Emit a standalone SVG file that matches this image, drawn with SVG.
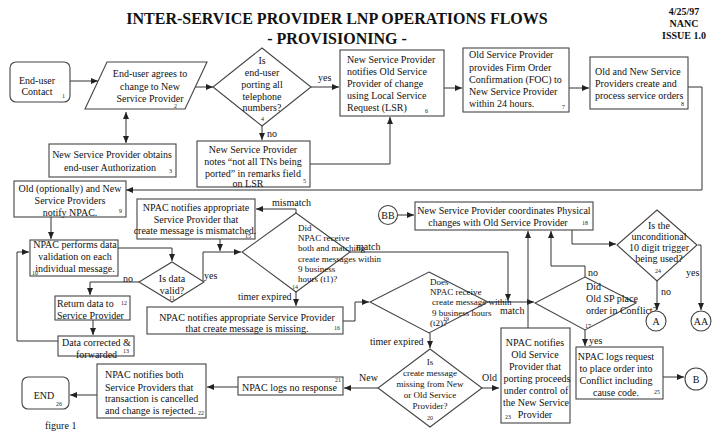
<svg xmlns="http://www.w3.org/2000/svg" width="720" height="437" viewBox="0 0 720 437">
<defs>
<marker id="arr" viewBox="0 0 7 6" refX="7" refY="3" markerWidth="7" markerHeight="6" markerUnits="userSpaceOnUse" orient="auto-start-reverse">
<path d="M0,0 L7,3 L0,6 z" fill="#222"/>
</marker>
<style>
.b{fill:#fff;stroke:#444;stroke-width:1.1}
.t{font-family:"Liberation Serif","Times New Roman",serif;font-size:10px;fill:#111}
.c{text-anchor:middle}
.s{font-family:"Liberation Serif","Times New Roman",serif;font-size:6px;fill:#222}
.d{font-size:9px}
.h{font-family:"Liberation Serif","Times New Roman",serif;font-weight:bold;fill:#111;text-anchor:middle}
.ln{fill:none;stroke:#333;stroke-width:1}
.a{marker-end:url(#arr)}
</style>
</defs>
<rect width="720" height="437" fill="#fff"/>
<g id="title">
<text class="h" x="337" y="24" font-size="16">INTER-SERVICE PROVIDER LNP OPERATIONS FLOWS</text>
<text class="h" x="337" y="44" font-size="16">- PROVISIONING -</text>
<text class="h" x="684" y="15" font-size="10">4/25/97</text>
<text class="h" x="684" y="27" font-size="10">NANC</text>
<text class="h" x="684" y="39" font-size="10">ISSUE 1.0</text>
</g>
<g id="connectors">
<path class="ln a" d="M70,81 H98"/>
<path class="ln a" d="M195,87 H213"/>
<path class="ln a" d="M126,112 V143" marker-start="url(#arr)"/>
<path class="ln a" d="M311,87 H339"/>
<path class="ln a" d="M262,126 V140"/>
<path class="ln a" d="M310,164 H390 V117"/>
<path class="ln a" d="M444,88 H462"/>
<path class="ln a" d="M569,88 H589"/>
<path class="ln a" d="M688,87 H702 V190 H126"/>
<path class="ln a" d="M51,217 V239"/>
<path class="ln a" d="M118,248 H172 V261"/>
<path class="ln a" d="M139,282 H90 V295"/>
<path class="ln a" d="M93,320 V335"/>
<path class="ln a" d="M58,341 H17 V252 H29"/>
<path class="ln a" d="M203,282 V252 H241"/>
<path class="ln a" d="M220,239 V251"/>
<path class="ln a" d="M296,213 V209 H256"/>
<path class="ln a" d="M296,292 V306"/>
<path class="ln a" d="M350,252 H508 V301"/>
<path class="ln a" d="M343,321 H355 V302 H369"/>
<path class="ln a" d="M488,302 H534"/>
<path class="ln a" d="M430,333 V348"/>
<path class="ln a" d="M378,388 H344"/>
<path class="ln a" d="M481,388 H499"/>
<path class="ln a" d="M238,387 H207"/>
<path class="ln a" d="M97,395 H70"/>
<path class="ln a" d="M528,328 V231"/>
<path class="ln a" d="M397,215 H414"/>
<path class="ln a" d="M572,230 V244 H616"/>
<path class="ln a" d="M585,277 V266 H551 V231"/>
<path class="ln a" d="M585,330 V346"/>
<path class="ln a" d="M663,377 H684"/>
<path class="ln a" d="M657,281 V310"/>
<path class="ln a" d="M698,245 H701 V310"/>
</g>
<g id="labels">
<text class="t" x="318" y="81">yes</text>
<text class="t" x="267" y="137">no</text>
<text class="t" x="123" y="282">no</text>
<text class="t" x="204" y="279">yes</text>
<text class="t" x="272" y="206">mismatch</text>
<text class="t" x="356" y="250">match</text>
<text class="t" x="238" y="300">timer expired</text>
<text class="t" x="500" y="314">match</text>
<text class="t" x="370" y="345">timer expired</text>
<text class="t" x="359" y="381">New</text>
<text class="t" x="482" y="381">Old</text>
<text class="t" x="588" y="276">no</text>
<text class="t" x="589" y="344">yes</text>
<text class="t" x="661" y="295">no</text>
<text class="t" x="686" y="276">yes</text>
<text class="t" x="45" y="429" font-size="8">figure 1</text>
</g>
<g id="n1">
<rect class="b" x="10" y="62" width="60" height="40" rx="6"/>
<text class="t c" x="37" y="84">End-user</text>
<text class="t c" x="37" y="95">Contact</text>
<text class="s" x="62" y="98">1</text>
</g>
<g id="n2">
<path class="b" d="M107,62 L207,62 L185,109 L85,109 Z"/>
<text class="t c" x="150" y="77">End-user agrees to</text>
<text class="t c" x="150" y="90">change to New</text>
<text class="t c" x="150" y="102">Service Provider</text>
<text class="s" x="174" y="108">2</text>
</g>
<g id="n3">
<rect class="b" x="49" y="144" width="127" height="33"/>
<text class="t c" x="112" y="158">New Service Provider obtains</text>
<text class="t c" x="110" y="171">end-user Authorization</text>
<text class="s" x="169" y="173">3</text>
</g>
<g id="n4">
<path class="b" d="M262,48 L311,87 L262,126 L213,87 Z"/>
<text class="t c" x="262" y="64">Is</text>
<text class="t c" x="262" y="76">end-user</text>
<text class="t c" x="262" y="88">porting all</text>
<text class="t c" x="262" y="100">telephone</text>
<text class="t c" x="262" y="111">numbers?</text>
<text class="s" x="261" y="121">4</text>
</g>
<g id="n5">
<rect class="b" x="197" y="141" width="113" height="46"/>
<text class="t c" x="253" y="153">New Service Provider</text>
<text class="t c" x="253" y="165">notes “not all TNs being</text>
<text class="t c" x="253" y="177">ported” in remarks field</text>
<text class="t c" x="248" y="187">on  LSR</text>
<text class="s" x="303" y="183">5</text>
</g>
<g id="n6">
<rect class="b" x="340" y="50" width="104" height="66"/>
<text class="t" x="347" y="63">New Service Provider</text>
<text class="t" x="347" y="75">notifies Old Service</text>
<text class="t" x="347" y="87">Provider of change</text>
<text class="t" x="347" y="99">using Local Service</text>
<text class="t" x="347" y="111">Request (LSR)</text>
<text class="s" x="425" y="113">6</text>
</g>
<g id="n7">
<rect class="b" x="463" y="48" width="106" height="64"/>
<text class="t" x="469" y="58">Old Service Provider</text>
<text class="t" x="469" y="71">provides Firm Order</text>
<text class="t" x="469" y="83">Confirmation (FOC) to</text>
<text class="t" x="469" y="95">New Service Provider</text>
<text class="t" x="469" y="107">within 24 hours.</text>
<text class="s" x="562" y="109">7</text>
</g>
<g id="n8">
<rect class="b" x="590" y="57" width="98" height="52"/>
<text class="t" x="595" y="75">Old and New Service</text>
<text class="t" x="595" y="87">Providers create and</text>
<text class="t" x="595" y="99">process service orders</text>
<text class="s" x="681" y="106">8</text>
</g>
<g id="n9">
<rect class="b" x="14" y="181" width="112" height="36"/>
<text class="t c" x="70" y="192">Old (optionally) and New</text>
<text class="t c" x="70" y="204">Service Providers</text>
<text class="t c" x="70" y="216">notify NPAC.</text>
<text class="s" x="119" y="213">9</text>
</g>
<g id="n10">
<rect class="b" x="30" y="240" width="88" height="36"/>
<text class="t c" x="75" y="248">NPAC performs data</text>
<text class="t c" x="75" y="260">validation on each</text>
<text class="t c" x="75" y="272">individual message.</text>
<text class="s" x="32" y="275">10</text>
</g>
<g id="n11">
<path class="b" d="M172,262 L204,282 L172,302 L139,282 Z"/>
<text class="t c" x="172" y="282">Is data</text>
<text class="t c" x="172" y="294">valid?</text>
<text class="s" x="169" y="300">11</text>
</g>
<g id="n12">
<rect class="b" x="55" y="296" width="75" height="24"/>
<text class="t" x="57" y="307">Return data to</text>
<text class="t" x="57" y="319">Service Provider</text>
<text class="s" x="121" y="305">12</text>
</g>
<g id="n13">
<rect class="b" x="58" y="336" width="76" height="20"/>
<text class="t" x="62" y="346">Data corrected &amp;</text>
<text class="t" x="76" y="358">forwarded</text>
<text class="s" x="123" y="353">13</text>
</g>
<g id="n14">
<path class="b" d="M296,213 L350,252 L296,292 L242,252 Z"/>
<text class="t d" x="298" y="231">Did</text>
<text class="t d" x="298" y="241">NPAC receive</text>
<text class="t d" x="298" y="251">both and matching</text>
<text class="t d" x="298" y="262">create messages within</text>
<text class="t d" x="298" y="272">9 business</text>
<text class="t d" x="298" y="282">hours (t1)?</text>
<text class="s" x="292" y="289">14</text>
</g>
<g id="n15">
<rect class="b" x="137" y="199" width="118" height="40"/>
<text class="t c" x="196" y="211">NPAC notifies appropriate</text>
<text class="t c" x="196" y="223">Service Provider  that</text>
<text class="t c" x="195" y="234">create message is mismatched.</text>
<text class="s" x="245" y="238">15</text>
</g>
<g id="n16">
<rect class="b" x="147" y="307" width="196" height="27"/>
<text class="t c" x="247" y="321">NPAC notifies appropriate Service Provider</text>
<text class="t c" x="247" y="332">that create message is missing.</text>
<text class="s" x="334" y="330">16</text>
</g>
<g id="n17">
<path class="b" d="M585,277 L636,303 L585,330 L535,303 Z"/>
<text class="t" x="586" y="290" font-size="9.5">Did</text>
<text class="t" x="586" y="302" font-size="9.5">Old SP place</text>
<text class="t" x="586" y="314" font-size="9.5">order in Conflict?</text>
<text class="s" x="585" y="328">17</text>
</g>
<g id="n18">
<rect class="b" x="415" y="202" width="178" height="28"/>
<text class="t c" x="504" y="214">New Service Provider coordinates Physical</text>
<text class="t c" x="498" y="226">changes with Old Service Provider</text>
<text class="s" x="582" y="225">18</text>
</g>
<g id="n19">
<path class="b" d="M429,272 L488,302 L429,333 L370,302 Z"/>
<text class="t d" x="430" y="285">Does</text>
<text class="t d" x="430" y="295">NPAC receive</text>
<text class="t d" x="432" y="305">create message within</text>
<text class="t d" x="432" y="316">9 business hours</text>
<text class="t d" x="430" y="326">(t2)?</text>
<text class="s" x="443" y="321">19</text>
</g>
<g id="n20">
<path class="b" d="M430,349 L482,388 L430,427 L378,388 Z"/>
<text class="t c d" x="430" y="365">Is</text>
<text class="t c d" x="430" y="376">create message</text>
<text class="t c d" x="430" y="387">missing from New</text>
<text class="t c d" x="430" y="398">or  Old  Service</text>
<text class="t c d" x="430" y="409">Provider?</text>
<text class="s" x="427" y="420">20</text>
</g>
<g id="n21">
<rect class="b" x="238" y="377" width="105" height="18"/>
<text class="t" x="242" y="391">NPAC logs no response</text>
<text class="s" x="335" y="382">21</text>
</g>
<g id="n22">
<rect class="b" x="97" y="364" width="109" height="54"/>
<text class="t" x="105" y="378">NPAC notifies both</text>
<text class="t" x="105" y="391">Service Providers that</text>
<text class="t" x="105" y="402">transaction is cancelled</text>
<text class="t" x="105" y="414">and change is rejected.</text>
<text class="s" x="198" y="415">22</text>
</g>
<g id="n23">
<rect class="b" x="501" y="328" width="69" height="95"/>
<text class="t c" x="535" y="346">NPAC notifies</text>
<text class="t c" x="535" y="358">Old Service</text>
<text class="t c" x="535" y="370">Provider that</text>
<text class="t c" x="537" y="382">porting proceeds</text>
<text class="t c" x="536" y="394">under control of</text>
<text class="t c" x="536" y="406">the New  Service</text>
<text class="t c" x="535" y="418">Provider</text>
<text class="s" x="505" y="419">23</text>
</g>
<g id="n24">
<path class="b" d="M657,210 L697,245 L657,281 L617,245 Z"/>
<text class="t c" x="659" y="229" font-size="9.5">Is the</text>
<text class="t c" x="659" y="240" font-size="9.5">unconditional</text>
<text class="t c" x="659" y="251" font-size="9.5">10 digit trigger</text>
<text class="t c" x="659" y="262" font-size="9.5">being used?</text>
<text class="s" x="655" y="273">24</text>
</g>
<g id="n25">
<rect class="b" x="576" y="347" width="87" height="52"/>
<text class="t c" x="616" y="360">NPAC logs request</text>
<text class="t c" x="616" y="372">to place order into</text>
<text class="t c" x="616" y="384">Conflict including</text>
<text class="t c" x="616" y="396">cause code.</text>
<text class="s" x="654" y="394">25</text>
</g>
<g id="n26">
<rect class="b" x="22" y="377" width="47" height="32" rx="6"/>
<text class="t c" x="44" y="399">END</text>
<text class="s" x="56" y="406">26</text>
</g>
<g id="cA">
<circle class="b" cx="656" cy="321" r="10"/>
<text class="t c" x="656" y="325">A</text>
</g>
<g id="cAA">
<circle class="b" cx="701" cy="321" r="10"/>
<text class="t c" x="701" y="325">AA</text>
</g>
<g id="cB">
<circle class="b" cx="696" cy="379" r="11"/>
<text class="t c" x="696" y="383">B</text>
</g>
<g id="cBB">
<circle class="b" cx="388" cy="215" r="9.5"/>
<text class="t c" x="388" y="219">BB</text>
</g>
</svg>
